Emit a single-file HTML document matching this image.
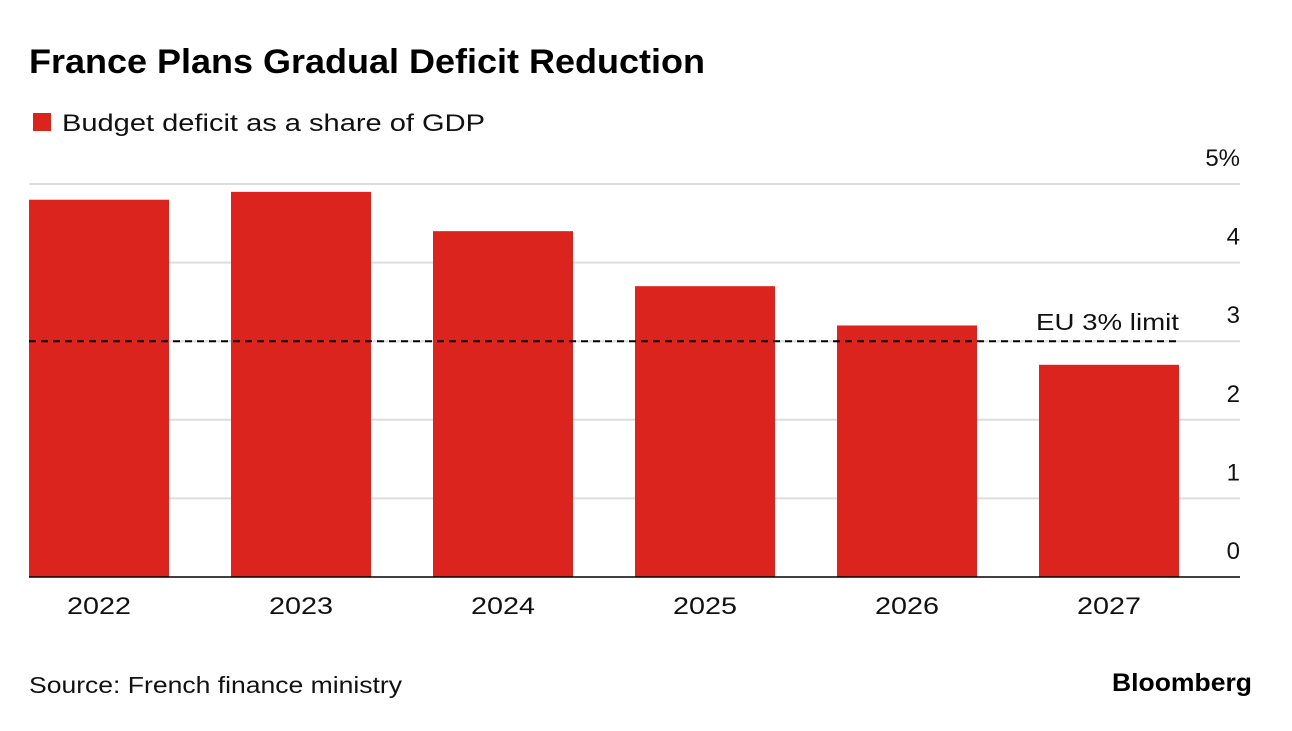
<!DOCTYPE html>
<html><head><meta charset="utf-8"><style>
body{margin:0;background:#fff;width:1292px;height:726px;overflow:hidden;font-family:"Liberation Sans",sans-serif;}
svg text{font-family:"Liberation Sans",sans-serif;}
</style></head><body>
<svg width="1292" height="726">
<text x="29" y="73" font-size="34" font-weight="bold" fill="#000" textLength="676" lengthAdjust="spacingAndGlyphs">France Plans Gradual Deficit Reduction</text>
<rect x="33" y="113" width="18" height="18" fill="#dc241f"/>
<text x="62" y="131" font-size="24" fill="#111" textLength="423" lengthAdjust="spacingAndGlyphs">Budget deficit as a share of GDP</text>
<g id="grid"></g><g id="bars"></g><g id="xl"></g>
<line x1="29" x2="1240" y1="577" y2="577" stroke="#000" stroke-width="1.5"/>
<g id="limit"></g>
<text x="29" y="693" font-size="23" fill="#111" textLength="373" lengthAdjust="spacingAndGlyphs">Source: French finance ministry</text>
<text x="1252" y="691" font-size="25" font-weight="bold" text-anchor="end" fill="#000" textLength="140" lengthAdjust="spacingAndGlyphs">Bloomberg</text>
</svg>
<script>
const categories=["2022","2023","2024","2025","2026","2027"];
const values=[4.8,4.9,4.4,3.7,3.2,2.7];
const ticks=[0,1,2,3,4,5];
const tickLabels=["0","1","2","3","4","5%"];
const limitValue=3;
const NS="http://www.w3.org/2000/svg";
const y0=577,yTop=184,vmax=5;
const y=v=>y0-(v/vmax)*(y0-yTop);
const x=i=>29+i*202;
function mk(t,a,p,txt){const e=document.createElementNS(NS,t);for(const k in a)e.setAttribute(k,a[k]);if(txt!=null)e.textContent=txt;document.getElementById(p).appendChild(e);return e;}
ticks.forEach((t,i)=>{
 if(t>0){const l=mk('line',{x1:29,x2:1240,y1:y(t),y2:y(t),stroke:'#ddd','stroke-width':2},'grid');
 
 }
 const tx=mk('text',{x:1240,y:y(t)-18,'font-size':24,'text-anchor':'end',fill:'#111'},'grid',tickLabels[i]);
 
 
});
categories.forEach((c,i)=>{
 const r=mk('rect',{x:x(i),y:y(values[i]),width:140,height:y0-y(values[i]),fill:'#dc241f'},'bars');
 
 
 const t=mk('text',{x:x(i)+70,y:614,'font-size':24,'text-anchor':'middle',fill:'#111',textLength:64,lengthAdjust:'spacingAndGlyphs'},'xl',c);
 
 
});
const dl=mk('line',{x1:29,x2:1179,y1:y(limitValue),y2:y(limitValue),stroke:'#000','stroke-width':2,'stroke-dasharray':'7,5'},'limit');


const lt=mk('text',{x:1179,y:y(limitValue)-11,'font-size':23,'text-anchor':'end',fill:'#111',textLength:143,lengthAdjust:'spacingAndGlyphs'},'limit','EU 3% limit');


</script>
</body></html>
